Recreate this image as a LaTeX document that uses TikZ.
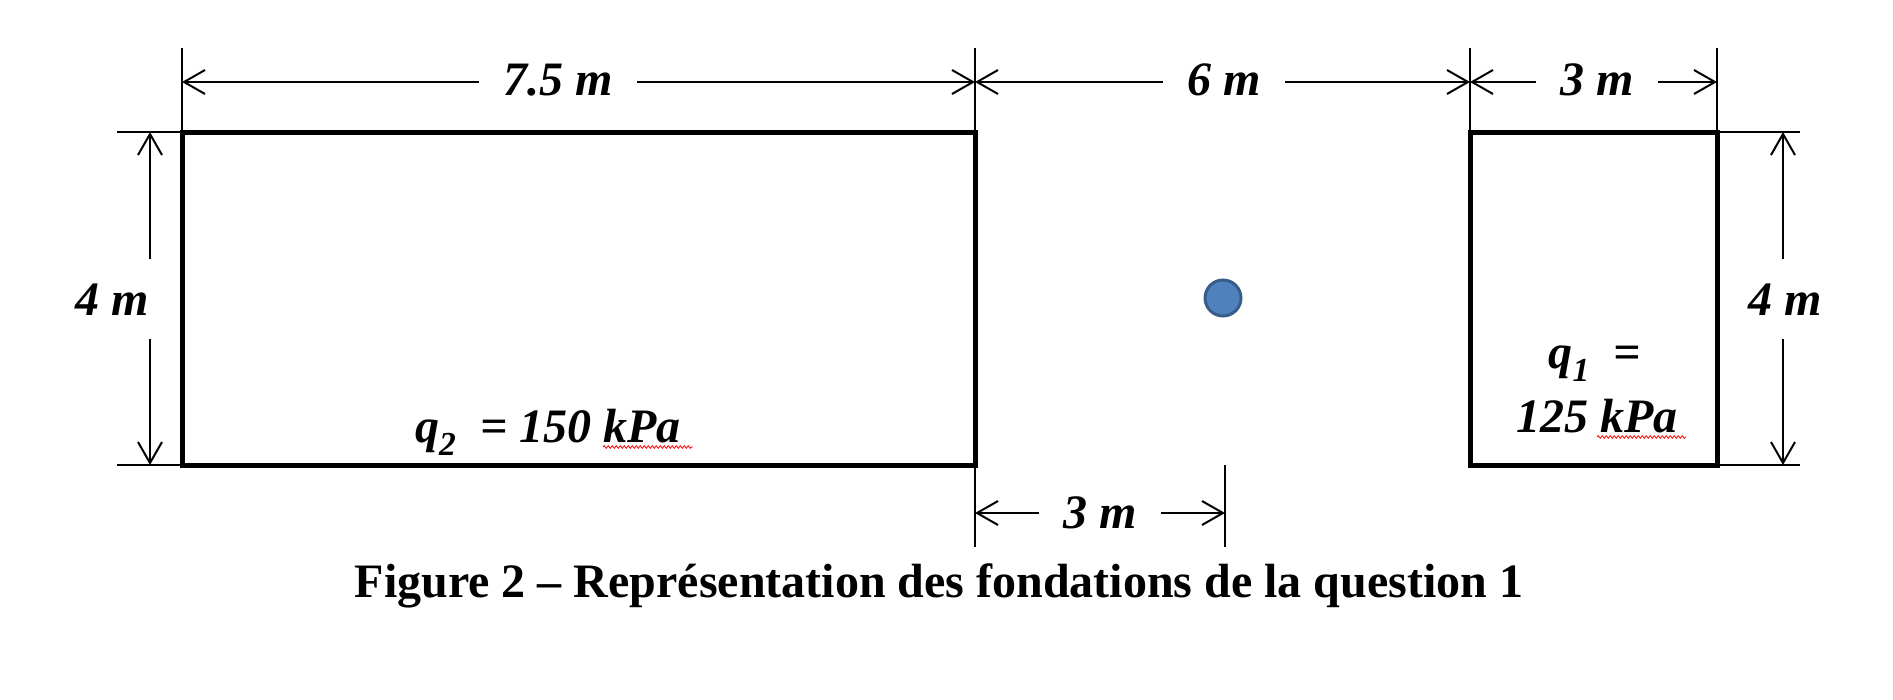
\documentclass[tikz,border=0pt]{standalone}
\usepackage{fontspec}
\setmainfont{Liberation Serif}
\usetikzlibrary{arrows.meta,decorations.pathmorphing}
\definecolor{dotblue}{HTML}{4F81BD}
\definecolor{dotedge}{HTML}{385D8A}
\begin{document}
\begin{tikzpicture}[x=1pt,y=-1pt,
  footing/.style={line width=5pt, line join=miter},
  extline/.style={line width=1.6pt},
  dimline/.style={line width=2pt, -{Straight Barb[length=21pt,width=24pt]}},
  dimtext/.style={font=\fontsize{48}{50}\selectfont\bfseries\itshape, anchor=base, inner xsep=24pt, inner ysep=24pt},
  loadtext/.style={font=\fontsize{48}{50}\selectfont\bfseries\itshape, anchor=base, inner sep=0pt},
  spell/.style={red, line width=0.8pt, decorate, decoration={snake, amplitude=1.3pt, segment length=4pt}}]
\useasboundingbox (0,0) rectangle (1893,699);
% footings
\coordinate (A1) at (182,132); \coordinate (A2) at (975,465);
\coordinate (B1) at (1470,132); \coordinate (B2) at (1717,465);
\draw[footing] (A1) rectangle (A2);
\draw[footing] (B1) rectangle (B2);
% point
\node[circle, fill=dotblue, draw=dotedge, line width=3pt, minimum size=36pt, inner sep=0pt] (pt) at (1223,298) {};
% extension lines
\coordinate (e1) at (182,48); \coordinate (e2) at (975,48);
\coordinate (e3) at (1470,48); \coordinate (e4) at (1717,48);
\draw[extline] (e1) -- (A1);
\draw[extline] (e2) -- (975,132);
\draw[extline] (e3) -- (B1);
\draw[extline] (e4) -- (1717,132);
\coordinate (l1) at (117,132); \coordinate (l2) at (117,465);
\draw[extline] (l1) -- (A1);
\draw[extline] (l2) -- (182,465);
\coordinate (r1) at (1800,132); \coordinate (r2) at (1800,465);
\draw[extline] (1717,132) -- (r1);
\draw[extline] (B2) -- (r2);
\coordinate (b1) at (975,547); \coordinate (b2) at (1225,547);
\draw[extline] (A2) -- (b1);
\draw[extline] (1225,465) -- (b2);
% top dimensions
\coordinate (d1) at (182,82); \coordinate (d2) at (975,82);
\coordinate (d3) at (1470,82); \coordinate (d4) at (1717,82);
\node[dimtext] (t75) at (558,95) {7.5 m};
\node[dimtext] (t6) at (1224,95) {6 m};
\node[dimtext] (t3a) at (1597,95) {3 m};
\draw[dimline] (t75.west |- d1) -- (d1);
\draw[dimline] (t75.east |- d2) -- (d2);
\draw[dimline] (t6.west |- d2) -- (d2);
\draw[dimline] (t6.east |- d3) -- (d3);
\draw[dimline] (t3a.west |- d3) -- (d3);
\draw[dimline] (t3a.east |- d4) -- (d4);
% vertical dimensions
\coordinate (v1) at (150,132); \coordinate (v2) at (150,465);
\coordinate (w1) at (1783,132); \coordinate (w2) at (1783,465);
\node[dimtext] (t4l) at (112,315) {4 m};
\node[dimtext] (t4r) at (1785,315) {4 m};
\draw[dimline] (t4l.north -| v1) -- (v1);
\draw[dimline] (t4l.south -| v2) -- (v2);
\draw[dimline] (t4r.north -| w1) -- (w1);
\draw[dimline] (t4r.south -| w2) -- (w2);
% bottom dimension
\coordinate (c1) at (975,513); \coordinate (c2) at (1225,513);
\node[dimtext] (t3b) at (1100,528) {3 m};
\draw[dimline] (t3b.west |- c1) -- (c1);
\draw[dimline] (t3b.east |- c2) -- (c2);
% loads
\node[loadtext] (q2) at (548,442) {q\textsubscript{2}\ \ = 150 kPa};
\node[loadtext] (q1a) at (1595,368) {q\textsubscript{1}\ \ =};
\node[loadtext] (q1b) at (1597,432) {125 kPa};
\coordinate (s1) at (603,447); \coordinate (s2) at (693,447);
\coordinate (s3) at (1597,437); \coordinate (s4) at (1686,437);
\draw[spell] (s1) -- (s2);
\draw[spell] (s3) -- (s4);
% caption
\node[font=\fontsize{48}{50}\selectfont\bfseries, anchor=base, inner sep=0pt] (cap) at (939,597) {Figure 2 – Représentation des fondations de la question 1};
\end{tikzpicture}
\end{document}
